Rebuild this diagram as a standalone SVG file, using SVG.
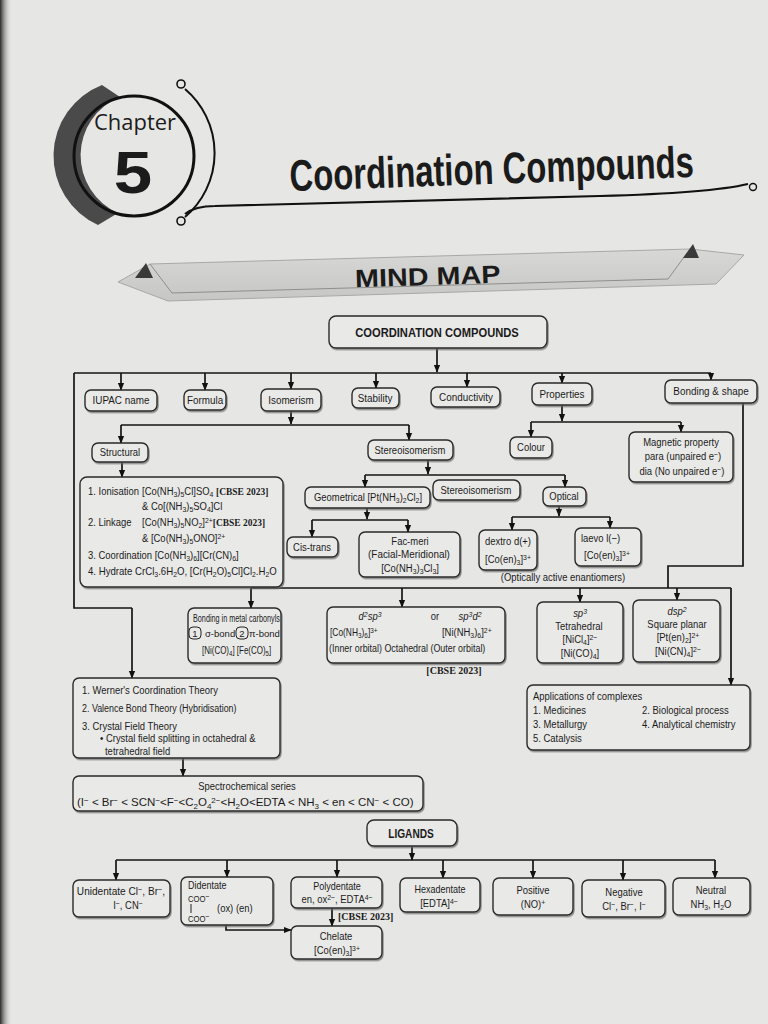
<svg xmlns="http://www.w3.org/2000/svg" width="768" height="1024" viewBox="0 0 768 1024">
<defs>
<style>
text{font-family:"Liberation Sans",Arial,sans-serif;font-size:11px;fill:#1b1b1b}
.nd text,text.sc{transform-box:fill-box;transform-origin:0 50%;transform:scaleX(.86)}
.nd text.c,text.sc.c{transform-origin:50% 50%}
.t{font-size:11.5px}
.c{text-anchor:middle}
.b{font-weight:bold}
.i{font-style:italic}
.s{font-size:8px;baseline-shift:-2.5px}
.p{font-size:8px;baseline-shift:3.5px}
.cb{font-family:"Liberation Serif","Times New Roman",serif;font-weight:bold;font-size:10px}
.box{fill:#e9e9e7;stroke:#2a2a2a;stroke-width:1.4;filter:url(#sh)}
.ln{fill:none;stroke:#151515;stroke-width:1.7}
.ar{fill:none;stroke:#151515;stroke-width:1.7;marker-end:url(#ah)}
</style>
<filter id="sh" x="-5%" y="-10%" width="115%" height="130%">
<feDropShadow dx="1" dy="1.5" stdDeviation="0.7" flood-color="#666" flood-opacity="0.7"/>
</filter>
<marker id="ah" viewBox="0 0 10 10" refX="9" refY="5" markerWidth="8" markerHeight="8" orient="auto" markerUnits="userSpaceOnUse">
<path d="M0,1 L10,5 L0,9 z" fill="#111"/>
</marker>
<linearGradient id="edge" x1="0" x2="1" y1="0" y2="0">
<stop offset="0" stop-color="#2a2a2a"/>
<stop offset="1" stop-color="#e6e6e4" stop-opacity="0"/>
</linearGradient>
<linearGradient id="ban" x1="0" x2="0" y1="0" y2="1">
<stop offset="0" stop-color="#d8d8d6"/>
<stop offset="1" stop-color="#c6c6c4"/>
</linearGradient>
</defs>
<rect width="768" height="1024" fill="#e6e6e4"/>
<rect width="12" height="1024" fill="url(#edge)"/>

<g id="header">
<path d="M102,85 A76,76 0 0 0 98,225 L118,213 A63,63 0 0 1 120,97 Z" fill="#4a4a4a"/>
<circle cx="134" cy="156" r="60" fill="none" stroke="#111" stroke-width="3"/>
<path d="M185,89 A84,84 0 0 1 185,217" fill="none" stroke="#111" stroke-width="2"/>
<circle cx="181" cy="84" r="4" fill="#e6e6e4" stroke="#111" stroke-width="1.6"/>
<circle cx="181" cy="221" r="4" fill="#e6e6e4" stroke="#111" stroke-width="1.6"/>
<text x="135" y="130" class="c" textLength="82" lengthAdjust="spacingAndGlyphs" style="font-family:'Open Sans','Liberation Sans',sans-serif;font-size:21px">Chapter</text>
<text transform="translate(133 193) scale(1.15 1)" x="0" y="0" class="c" style="font-family:'Liberation Sans',Arial,sans-serif;font-size:60px;font-weight:bold">5</text>
<path d="M185,214 Q195,206 215,206 L600,196 Q710,193 748,184" fill="none" stroke="#111" stroke-width="2.2"/>
<circle cx="753" cy="187" r="3.5" fill="#e6e6e4" stroke="#111" stroke-width="1.4"/>
<text transform="translate(290 191) rotate(-2) scale(0.746 1)" x="0" y="0" style="font-size:44px;font-weight:bold">Coordination Compounds</text>
</g>

<g id="banner">
<polygon points="118,282 150,264 690,249 744,255 716,284 168,301" fill="url(#ban)" stroke="#a8a8a6" stroke-width="1"/>
<polyline points="150,264 172,293 668,279 690,249" fill="none" stroke="#8e8e8c" stroke-width="1"/>
<polygon points="135,278 146,263 153,278" fill="#3a3a3a"/>
<polygon points="683,258 693,244 699,258" fill="#3a3a3a"/>
<text transform="translate(428 285) rotate(-1.8) scale(1.15 1)" x="0" y="0" class="c" style="font-family:'Liberation Sans',Arial,sans-serif;font-size:25px;font-weight:bold">MIND MAP</text>
</g>

<g id="connectors">
<path class="ar" d="M437,348 V372"/>
<path class="ln" d="M74,373 H711"/>
<path class="ln" d="M74,373 V608 H132"/>
<path class="ar" d="M132,608 V678"/>
<path class="ar" d="M121,373 V390"/>
<path class="ar" d="M205,373 V390"/>
<path class="ar" d="M291,373 V389"/>
<path class="ar" d="M376,373 V388"/>
<path class="ar" d="M467,373 V387"/>
<path class="ar" d="M562,373 V383"/>
<path class="ar" d="M711,373 V380"/>
<path class="ar" d="M291,411 V424"/>
<path class="ln" d="M121,425 H409"/>
<path class="ar" d="M121,425 V443"/>
<path class="ar" d="M409,425 V440"/>
<path class="ar" d="M122,462 V477"/>
<path class="ar" d="M428,460 V474"/>
<path class="ln" d="M365,475 H565"/>
<path class="ar" d="M365,475 V487"/>
<path class="ar" d="M565,475 V487"/>
<path class="ar" d="M367,508 V519"/>
<path class="ln" d="M312,520 H408"/>
<path class="ar" d="M312,520 V537"/>
<path class="ar" d="M408,520 V532"/>
<path class="ar" d="M559,506 V516"/>
<path class="ln" d="M512,517 H610"/>
<path class="ar" d="M512,517 V530"/>
<path class="ar" d="M610,517 V528"/>
<path class="ar" d="M562,405 V421"/>
<path class="ln" d="M531,422 H681"/>
<path class="ar" d="M531,422 V437"/>
<path class="ar" d="M681,422 V432"/>
<path class="ln" d="M743,403 V566 H668 V588"/>
<path class="ln" d="M251,588 H731"/>
<path class="ar" d="M731,588 V685"/>
<path class="ar" d="M251,588 V608"/>
<path class="ar" d="M402,588 V607"/>
<path class="ar" d="M580,588 V602"/>
<path class="ar" d="M677,588 V600"/>
<path class="ar" d="M183,758 V776"/>
<path class="ar" d="M412,846 V860"/>
<path class="ln" d="M116,860 H715"/>
<path class="ar" d="M116,860 V880"/>
<path class="ar" d="M227,860 V877"/>
<path class="ar" d="M337,860 V877"/>
<path class="ar" d="M443,860 V878"/>
<path class="ar" d="M533,860 V878"/>
<path class="ar" d="M623,860 V880"/>
<path class="ar" d="M715,860 V878"/>
<path class="ar" d="M332,908 V926"/>
<path class="ar" d="M226,925 V930 H291"/>
</g>

<g id="n-coord" class="nd"><rect class="box" x="329" y="316" width="218" height="32" rx="7"/>
<text x="437" y="337" class="c b" style="font-size:13px">COORDINATION COMPOUNDS</text></g>

<g id="n-iupac" class="nd"><rect class="box" x="85" y="390" width="72" height="21" rx="6"/><text x="121" y="404" class="c t">IUPAC name</text></g>
<g id="n-formula" class="nd"><rect class="box" x="184" y="390" width="42" height="20" rx="6"/><text x="205" y="404" class="c t">Formula</text></g>
<g id="n-isomerism" class="nd"><rect class="box" x="261" y="389" width="60" height="22" rx="6"/><text x="291" y="404" class="c t">Isomerism</text></g>
<g id="n-stability" class="nd"><rect class="box" x="352" y="388" width="47" height="20" rx="6"/><text x="375" y="402" class="c t">Stability</text></g>
<g id="n-conductivity" class="nd"><rect class="box" x="431" y="387" width="69" height="20" rx="6"/><text x="466" y="401" class="c t">Conductivity</text></g>
<g id="n-properties" class="nd"><rect class="box" x="532" y="383" width="60" height="22" rx="6"/><text x="562" y="398" class="c t">Properties</text></g>
<g id="n-bonding" class="nd"><rect class="box" x="665" y="380" width="92" height="23" rx="6"/><text x="711" y="395" class="c t">Bonding &amp; shape</text></g>

<g id="n-structural" class="nd"><rect class="box" x="92" y="443" width="56" height="19" rx="6"/><text x="120" y="456" class="c">Structural</text></g>
<g id="n-structural-list" class="nd"><rect class="box" x="80" y="477" width="203" height="110" rx="7"/>
<text x="88" y="495">1. Ionisation<tspan x="150.8">[Co(NH</tspan><tspan class="s">3</tspan>)<tspan class="s">5</tspan>Cl]SO<tspan class="s">4</tspan> <tspan class="cb" style="font-size:11px">[CBSE 2023]</tspan></text>
<text x="142" y="510">&amp; Co[(NH<tspan class="s">3</tspan>)<tspan class="s">5</tspan>SO<tspan class="s">4</tspan>]Cl</text>
<text x="88" y="526">2. Linkage<tspan x="150.8">[Co(NH</tspan><tspan class="s">3</tspan>)<tspan class="s">5</tspan>NO<tspan class="s">2</tspan>]<tspan class="p">2+</tspan><tspan class="cb" style="font-size:11px">[CBSE 2023]</tspan></text>
<text x="142" y="542">&amp; [Co(NH<tspan class="s">3</tspan>)<tspan class="s">5</tspan>ONO]<tspan class="p">2+</tspan></text>
<text x="88" y="559">3. Coordination [Co(NH<tspan class="s">3</tspan>)<tspan class="s">6</tspan>][Cr(CN)<tspan class="s">6</tspan>]</text>
<text x="88" y="575" style="font-size:11.2px">4. Hydrate CrCl<tspan class="s">3</tspan>.6H<tspan class="s">2</tspan>O, [Cr(H<tspan class="s">2</tspan>O)<tspan class="s">5</tspan>Cl]Cl<tspan class="s">2</tspan>.H<tspan class="s">2</tspan>O</text>
</g>

<g id="n-stereo" class="nd"><rect class="box" x="368" y="440" width="85" height="20" rx="6"/><text x="410" y="454" class="c">Stereoisomerism</text></g>
<g id="n-geometrical" class="nd"><rect class="box" x="305" y="487" width="125" height="21" rx="6"/><text x="368" y="501" class="c">Geometrical [Pt(NH<tspan class="s">3</tspan>)<tspan class="s">2</tspan>Cl<tspan class="s">2</tspan>]</text></g>
<g id="n-stereo2" class="nd"><rect class="box" x="433" y="480" width="87" height="20" rx="6"/><text x="476" y="494" class="c">Stereoisomerism</text></g>
<g id="n-optical" class="nd"><rect class="box" x="543" y="487" width="43" height="19" rx="6"/><text x="564" y="500" class="c">Optical</text></g>
<g id="n-cistrans" class="nd"><rect class="box" x="287" y="537" width="51" height="20" rx="6"/><text x="312" y="551" class="c">Cis-trans</text></g>
<g id="n-facmeri" class="nd"><rect class="box" x="359" y="532" width="101" height="45" rx="6"/>
<text x="410" y="545" class="c">Fac-meri</text>
<text x="409" y="558" class="c" style="font-size:11.5px">(Facial-Meridional)</text>
<text x="410" y="572" class="c">[Co(NH<tspan class="s">3</tspan>)<tspan class="s">3</tspan>Cl<tspan class="s">3</tspan>]</text></g>
<g id="n-dextro" class="nd"><rect class="box" x="479" y="530" width="58" height="40" rx="6"/>
<text x="508" y="545" class="c">dextro d(+)</text>
<text x="508" y="563" class="c">[Co(en)<tspan class="s">3</tspan>]<tspan class="p">3+</tspan></text></g>
<g id="n-laevo" class="nd"><rect class="box" x="575" y="528" width="66" height="38" rx="6"/>
<text x="581" y="542">laevo l(−)</text>
<text x="607" y="559" class="c">[Co(en)<tspan class="s">3</tspan>]<tspan class="p">3+</tspan></text></g>
<text x="563" y="581" class="c sc">(Optically active enantiomers)</text>

<g id="n-colour" class="nd"><rect class="box" x="510" y="437" width="42" height="21" rx="6"/><text x="531" y="451" class="c">Colour</text></g>
<g id="n-magnetic" class="nd"><rect class="box" x="629" y="432" width="104" height="50" rx="6"/>
<text x="681" y="446" class="c">Magnetic property</text>
<text x="683" y="460" class="c">para (unpaired e<tspan class="p">−</tspan>)</text>
<text x="682" y="475" class="c">dia (No unpaired e<tspan class="p">−</tspan>)</text></g>

<g id="n-carbonyls" class="nd"><rect class="box" x="188" y="608" width="93" height="55" rx="6"/>
<text x="193" y="622" style="font-size:10.5px;transform:scaleX(.69)">Bonding in metal carbonyls</text>
<rect x="189" y="627" width="12" height="12" rx="4" fill="none" stroke="#222" stroke-width="1"/>
<rect x="236" y="627" width="12" height="12" rx="4" fill="none" stroke="#222" stroke-width="1"/>
<text x="192.3" y="637" style="font-size:9.5px;transform:none">1<tspan x="205">σ-bond</tspan><tspan x="239.3">2</tspan><tspan x="249">π-bond</tspan></text>
<text x="202" y="654" style="font-size:10.5px;transform:scaleX(.76)">[Ni(CO)<tspan class="s">4</tspan>]  [Fe(CO)<tspan class="s">5</tspan>]</text></g>

<g id="n-octahedral" class="nd"><rect class="box" x="327" y="607" width="178" height="56" rx="6"/>
<text x="370" y="620" class="c i">d<tspan class="p">2</tspan>sp<tspan class="p">3</tspan></text>
<text x="435" y="620" class="c">or</text>
<text x="470" y="620" class="c i">sp<tspan class="p">3</tspan>d<tspan class="p">2</tspan></text>
<text x="330" y="636" style="font-size:10.5px;transform:scaleX(.8)">[Co(NH<tspan class="s">3</tspan>)<tspan class="s">6</tspan>]<tspan class="p">3+</tspan></text>
<text x="442" y="636">[Ni(NH<tspan class="s">3</tspan>)<tspan class="s">6</tspan>]<tspan class="p">2+</tspan></text>
<text x="329" y="652" style="transform:scaleX(.81)">(Inner orbital) Octahedral (Outer orbital)</text></g>
<text x="454" y="674" class="c cb">[CBSE 2023]</text>

<g id="n-tetrahedral" class="nd"><rect class="box" x="537" y="602" width="86" height="61" rx="6"/>
<text x="580" y="617" class="c i">sp<tspan class="p">3</tspan></text>
<text x="579" y="630" class="c">Tetrahedral</text>
<text x="580" y="643" class="c">[NiCl<tspan class="s">4</tspan>]<tspan class="p">2−</tspan></text>
<text x="580" y="657" class="c">[Ni(CO)<tspan class="s">4</tspan>]</text></g>

<g id="n-squareplanar" class="nd"><rect class="box" x="633" y="600" width="87" height="62" rx="6"/>
<text x="677" y="615" class="c i">dsp<tspan class="p">2</tspan></text>
<text x="677" y="628" class="c">Square planar</text>
<text x="678" y="641" class="c">[Pt(en)<tspan class="s">2</tspan>]<tspan class="p">2+</tspan></text>
<text x="678" y="655" class="c">[Ni(CN)<tspan class="s">4</tspan>]<tspan class="p">2−</tspan></text></g>

<g id="n-applications" class="nd"><rect class="box" x="527" y="685" width="223" height="65" rx="6"/>
<text x="533" y="700">Applications of complexes</text>
<text x="533" y="714">1. Medicines</text>
<text x="642" y="714">2. Biological process</text>
<text x="533" y="728">3.   Metallurgy</text>
<text x="642" y="728">4. Analytical chemistry</text>
<text x="533" y="742">5.   Catalysis</text></g>

<g id="n-theory" class="nd"><rect class="box" x="73" y="678" width="207" height="80" rx="6"/>
<text x="82" y="694">1. Werner's Coordination Theory</text>
<text x="82" y="712" style="transform:scaleX(.81)">2. Valence Bond Theory (Hybridisation)</text>
<text x="82" y="730">3. Crystal Field Theory</text>
<text x="100" y="742">•  Crystal field splitting in octahedral &amp;</text>
<text x="105" y="755">tetrahedral field</text></g>

<g id="n-spectro" class="nd"><rect class="box" x="73" y="776" width="350" height="35" rx="6"/>
<text x="247" y="790" class="c">Spectrochemical series</text>
<text x="77" y="806" style="font-size:11.5px;transform:none">(I<tspan class="p">−</tspan> &lt; Br<tspan class="p">−</tspan> &lt; SCN<tspan class="p">−</tspan>&lt;F<tspan class="p">−</tspan>&lt;C<tspan class="s">2</tspan>O<tspan class="s">4</tspan><tspan class="p">2−</tspan>&lt;H<tspan class="s">2</tspan>O&lt;EDTA &lt; NH<tspan class="s">3</tspan> &lt; en &lt; CN<tspan class="p">−</tspan> &lt; CO)</text></g>

<g id="n-ligands" class="nd"><rect class="box" x="367" y="820" width="90" height="26" rx="7"/>
<text x="411" y="838" class="c b" style="font-size:13.5px;transform:scaleX(.75)">LIGANDS</text></g>

<g id="n-unidentate" class="nd"><rect class="box" x="73" y="880" width="97" height="37" rx="6"/>
<text x="121" y="895" class="c" style="transform:scaleX(.92)">Unidentate Cl<tspan class="p">−</tspan>, Br<tspan class="p">−</tspan>,</text>
<text x="128" y="909" class="c">I<tspan class="p">−</tspan>, CN<tspan class="p">−</tspan></text></g>

<g id="n-didentate" class="nd"><rect class="box" x="181" y="877" width="92" height="48" rx="6"/>
<text x="188" y="889" style="font-size:10.5px">Didentate</text>
<text x="188" y="902" style="font-size:9px">COO<tspan class="p">−</tspan></text>
<line x1="191" y1="904" x2="191" y2="913" stroke="#222" stroke-width="1"/>
<text x="188" y="922" style="font-size:9px">COO<tspan class="p">−</tspan></text>
<text x="217" y="912">(ox)  (en)</text></g>

<g id="n-polydentate" class="nd"><rect class="box" x="291" y="877" width="91" height="31" rx="6"/>
<text x="337" y="890" class="c" style="font-size:10.5px">Polydentate</text>
<text x="337" y="903" class="c">en, ox<tspan class="p">2−</tspan>, EDTA<tspan class="p">4−</tspan></text></g>
<text x="338" y="920" class="cb">[CBSE 2023]</text>

<g id="n-chelate" class="nd"><rect class="box" x="291" y="926" width="91" height="33" rx="6"/>
<text x="336" y="940" class="c">Chelate</text>
<text x="337" y="954" class="c">[Co(en)<tspan class="s">3</tspan>]<tspan class="p">3+</tspan></text></g>

<g id="n-hexadentate" class="nd"><rect class="box" x="400" y="878" width="80" height="34" rx="6"/>
<text x="440" y="893" class="c" style="font-size:10.5px">Hexadentate</text>
<text x="439" y="907" class="c">[EDTA]<tspan class="p">4−</tspan></text></g>

<g id="n-positive" class="nd"><rect class="box" x="493" y="878" width="80" height="37" rx="6"/>
<text x="533" y="894" class="c">Positive</text>
<text x="533" y="908" class="c">(NO)<tspan class="p">+</tspan></text></g>

<g id="n-negative" class="nd"><rect class="box" x="582" y="880" width="83" height="37" rx="6"/>
<text x="624" y="896" class="c">Negative</text>
<text x="624" y="910" class="c">Cl<tspan class="p">−</tspan>, Br<tspan class="p">−</tspan>, I<tspan class="p">−</tspan></text></g>

<g id="n-neutral" class="nd"><rect class="box" x="673" y="878" width="77" height="37" rx="6"/>
<text x="711" y="894" class="c">Neutral</text>
<text x="711" y="908" class="c">NH<tspan class="s">3</tspan>, H<tspan class="s">2</tspan>O</text></g>
</svg>
